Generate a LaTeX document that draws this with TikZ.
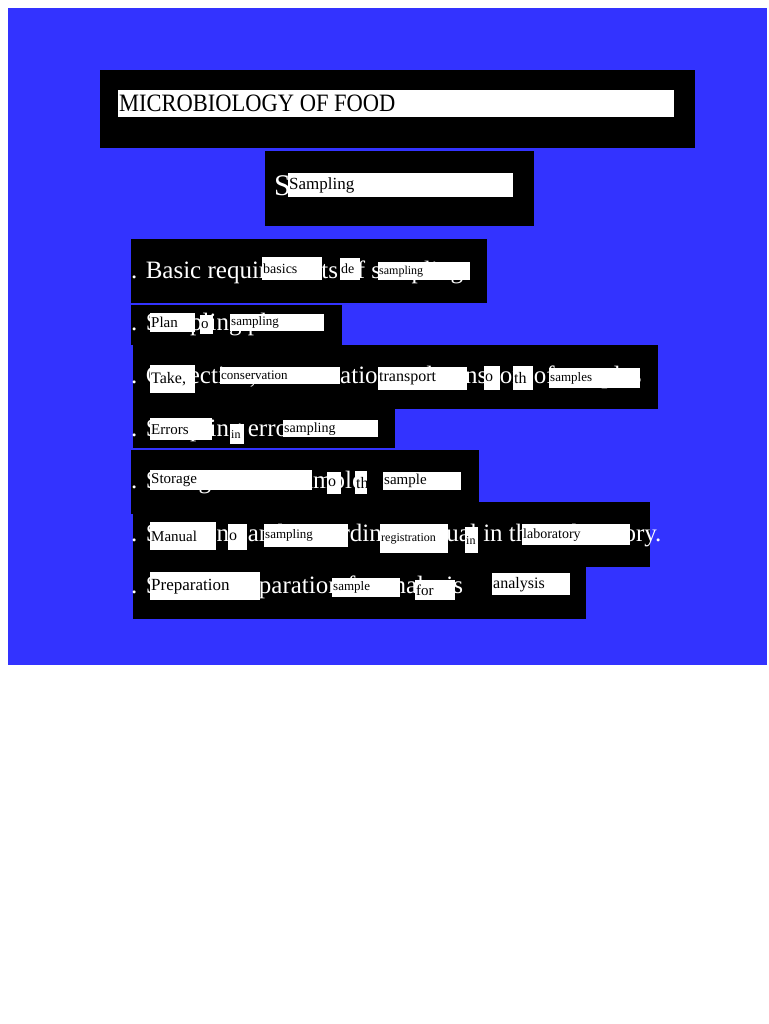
\documentclass[tikz,border=0pt]{standalone}
\usepackage{fontspec}
\setmainfont{Liberation Serif}
\definecolor{slideblue}{HTML}{3333FF}
\newcommand\pch[7]{\node[pch,anchor=north west,minimum width={(#4-#2)*1pt},minimum height={(#5-#3)*1pt}] (#1) at (#2,#3) {};
 \node[ptxt,font=\fontsize{#7}{#7}\selectfont] (#1t) at (#1.west) {#6};}
\newcommand\blk[5]{\node[blk,anchor=north west,minimum width={(#4-#2)*1pt},minimum height={(#5-#3)*1pt}] (#1) at (#2,#3) {};}
\tikzset{
 pch/.style={fill=white,inner sep=0pt},
 ptxt/.style={anchor=west,inner sep=1pt,text=black},
 blk/.style={fill=black,inner sep=0pt},
 under/.style={text=white,anchor=base west,inner sep=0pt,font=\fontsize{25}{25}\selectfont}
}
\begin{document}
\begin{tikzpicture}[x=1pt,y=-1pt]
\useasboundingbox (0,0) rectangle (768,1024);
\fill[white] (0,0) rectangle (768,1024);
\node[fill=slideblue,anchor=north west,minimum width=759pt,minimum height=657pt,inner sep=0pt] (bg) at (8,8) {};
\blk{b1}{100}{70}{695}{148}
\blk{b2}{265}{151}{534}{226}
\blk{b3}{131}{239}{487}{303}
\blk{b4}{131}{305}{342}{345}
\blk{b5}{133}{345}{658}{409}
\blk{b6}{133}{409}{395}{448}
\blk{b7}{131}{450}{479}{514}
\blk{b8}{133}{502}{650}{567}
\blk{b9}{133}{567}{586}{619}
% underlying white text
\node[under,font=\fontsize{30}{30}\selectfont] (u0) at (274,196) {S};
\node[under] (u1) at (131,278) {. Basic requirements of sampling};
\node[under] (u2) at (131,330) {. Sampling plan};
\node[under] (u3) at (131,383) {. Collection, conservation and transport of samples};
\node[under] (u4) at (131,436) {. Sampling errors};
\node[under] (u5) at (131,488) {. Storage of the sample};
\node[under] (u6) at (131,541) {. Sampling and Recording Manual in the Laboratory.};
\node[under] (u7) at (131,593) {. Sample preparation for analysis};
% patches
\pch{t0}{118}{90}{674}{117}{\scalebox{0.9}[1]{MICROBIOLOGY OF FOOD}}{25}
\pch{t1}{288}{173}{513}{197}{Sampling}{17}
\pch{p1a}{262}{257}{322}{280}{basics}{14}
\pch{p1b}{340}{258}{360}{280}{de}{14}
\pch{p1c}{378}{262}{470}{280}{sampling}{12}
\pch{p2a}{150}{313}{195}{332}{Plan}{15}
\pch{p2b}{200}{315}{213}{334}{o}{15}
\pch{p2c}{230}{314}{324}{331}{sampling}{13}
\pch{p3a}{150}{365}{195}{393}{Take,}{16}
\pch{p3b}{220}{367}{340}{384}{conservation}{13}
\pch{p3c}{378}{367}{467}{390}{transport}{16}
\pch{p3d}{484}{366}{500}{390}{o}{16}
\pch{p3e}{513}{366}{533}{390}{th}{16}
\pch{p3f}{549}{368}{640}{388}{samples}{13}
\pch{p4a}{150}{418}{212}{440}{Errors}{15}
\pch{p4b}{230}{424}{244}{444}{in}{12}
\pch{p4c}{283}{420}{378}{437}{sampling}{14}
\pch{p5a}{150}{470}{312}{490}{Storage}{15}
\pch{p5b}{327}{472}{341}{494}{o}{16}
\pch{p5c}{355}{471}{367}{494}{th}{16}
\pch{p5d}{383}{472}{461}{490}{sample}{15}
\pch{p6a}{150}{522}{216}{550}{Manual}{15}
\pch{p6b}{228}{524}{247}{550}{o}{16}
\pch{p6c}{264}{524}{348}{547}{sampling}{13}
\pch{p6d}{380}{524}{448}{553}{registration}{12}
\pch{p6e}{465}{527}{478}{553}{in}{12}
\pch{p6f}{522}{524}{630}{545}{laboratory}{14}
\pch{p7a}{150}{572}{260}{600}{Preparation}{17}
\pch{p7b}{332}{578}{400}{597}{sample}{13}
\pch{p7c}{415}{580}{455}{600}{for}{15}
\pch{p7d}{492}{573}{570}{595}{analysis}{16}
\end{tikzpicture}
\end{document}
